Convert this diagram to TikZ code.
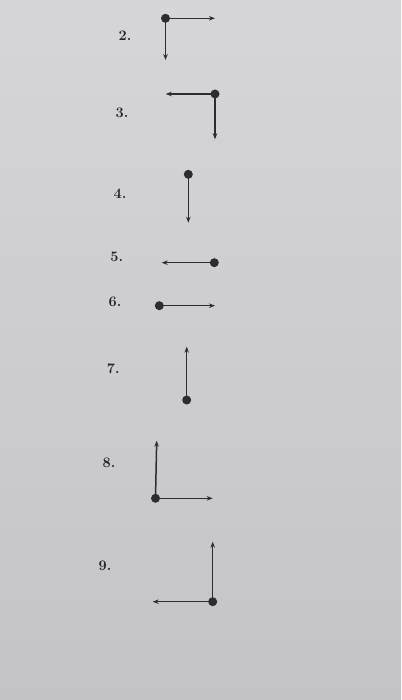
\documentclass[tikz,border=0pt]{standalone}
\usetikzlibrary{arrows.meta}
\definecolor{paperTop}{RGB}{214,214,216}
\definecolor{paperBot}{RGB}{196,196,200}
\definecolor{ink}{RGB}{45,45,48}
\begin{document}
\begin{tikzpicture}[x=1pt,y=-1pt,
  dotnode/.style={circle,fill=ink,inner sep=0pt,minimum size=9pt},
  numlabel/.style={font=\fontsize{14.5}{16}\selectfont\bfseries,text=ink!80!black,inner sep=0pt},
  arr/.style={draw=ink,line width=1.5pt,-{Stealth[length=6pt,width=4.5pt]},shorten <=-1pt}]
\shade[top color=paperTop,bottom color=paperBot] (0,0) rectangle (401,700);
\useasboundingbox (0,0) rectangle (401,700);
% 2
\node[numlabel] (l2) at (125,36) {2.};
\node[dotnode] (d2) at (165.5,18.3) {};
\coordinate (d2r) at (215,18.3);
\coordinate (d2d) at (165.5,60);
\draw[arr] (d2) -- (d2r);
\draw[arr] (d2) -- (d2d);
% 3
\node[numlabel] (l3) at (122,113.3) {3.};
\node[dotnode] (d3) at (215,94) {};
\coordinate (d3l) at (165.7,94);
\coordinate (d3d) at (215,139.3);
\draw[arr] (d3) -- (d3l);
\draw[arr] (d3) -- (d3d);
% 4
\node[numlabel] (l4) at (120,193.3) {4.};
\node[dotnode] (d4) at (188.3,174.3) {};
\coordinate (d4d) at (188.3,222.7);
\draw[arr] (d4) -- (d4d);
% 5
\node[numlabel] (l5) at (116.7,256.7) {5.};
\node[dotnode] (d5) at (214.3,262.7) {};
\coordinate (d5l) at (161.7,262.7);
\draw[arr] (d5) -- (d5l);
% 6
\node[numlabel] (l6) at (115,301.7) {6.};
\node[dotnode] (d6) at (159.3,305.7) {};
\coordinate (d6r) at (215,305.7);
\draw[arr] (d6) -- (d6r);
% 7
\node[numlabel] (l7) at (113.3,368.3) {7.};
\node[dotnode] (d7) at (186.7,400) {};
\coordinate (d7u) at (186.7,346.7);
\draw[arr] (d7) -- (d7u);
% 8
\node[numlabel] (l8) at (109,463.3) {8.};
\node[dotnode] (d8) at (155.5,498.3) {};
\coordinate (d8u) at (156.7,440.7);
\coordinate (d8r) at (212.7,498.3);
\draw[arr] (d8) -- (d8u);
\draw[arr] (d8) -- (d8r);
% 9
\node[numlabel] (l9) at (105,566) {9.};
\node[dotnode] (d9) at (212.7,601.7) {};
\coordinate (d9u) at (212.7,541.7);
\coordinate (d9l) at (152.7,601.7);
\draw[arr] (d9) -- (d9u);
\draw[arr] (d9) -- (d9l);
\end{tikzpicture}
\end{document}
